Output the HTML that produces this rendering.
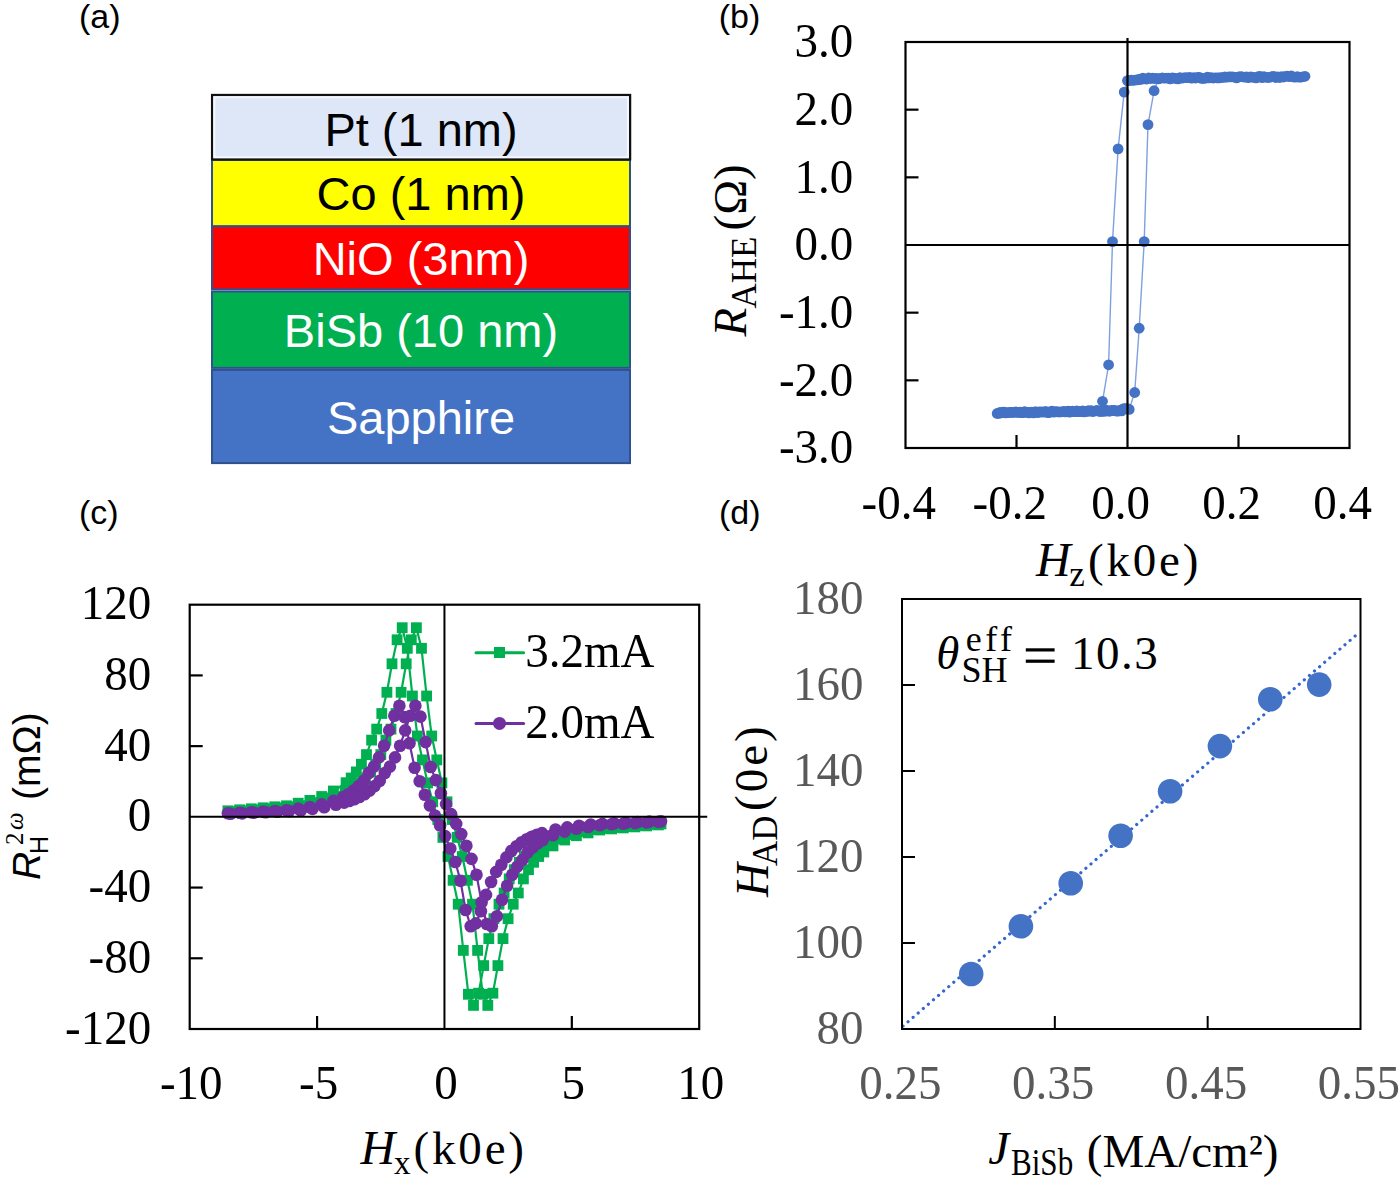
<!DOCTYPE html>
<html><head><meta charset="utf-8"><style>
html,body{margin:0;padding:0;background:#fff;overflow:hidden;}
svg{display:block;}
</style></head><body>
<svg width="1400" height="1178" viewBox="0 0 1400 1178">
<text transform="translate(79.00,27.80)" font-family="'Liberation Sans', sans-serif" font-size="34" fill="#000">(a)</text>
<rect x="212" y="160" width="418" height="66.35" fill="#FFFF00" stroke="#2F528F" stroke-width="2"/>
<rect x="212" y="226.35" width="418" height="63" fill="#FF0000" stroke="#2F528F" stroke-width="2"/>
<rect x="212" y="291.5" width="418" height="76.4" fill="#00B050" stroke="#2F528F" stroke-width="2"/>
<rect x="212" y="369.9" width="418" height="93.2" fill="#4472C4" stroke="#2F528F" stroke-width="2"/>
<rect x="212.1" y="95" width="418" height="64.4" fill="#DEE7F8" stroke="#111" stroke-width="2.3"/>
<rect x="214.3" y="97.2" width="413.6" height="60" fill="none" stroke="#F4F7FD" stroke-width="2"/>
<text transform="translate(421.00,145.60)" font-family="'Liberation Sans', sans-serif" font-size="47" text-anchor="middle" fill="#000">Pt (1 nm)</text>
<text transform="translate(421.00,210.40)" font-family="'Liberation Sans', sans-serif" font-size="47" text-anchor="middle" fill="#000">Co (1 nm)</text>
<text transform="translate(421.00,275.40)" font-family="'Liberation Sans', sans-serif" font-size="47" text-anchor="middle" fill="#fff">NiO (3nm)</text>
<text transform="translate(421.00,347.10)" font-family="'Liberation Sans', sans-serif" font-size="47" text-anchor="middle" fill="#fff">BiSb (10 nm)</text>
<text transform="translate(421.00,433.70)" font-family="'Liberation Sans', sans-serif" font-size="47" text-anchor="middle" fill="#fff">Sapphire</text>
<text transform="translate(718.80,28.00)" font-family="'Liberation Sans', sans-serif" font-size="34" fill="#000">(b)</text>
<path d="M1127.5,80.6 L1124.2,92.1 L1118.1,148.9 L1112.5,241.6 L1108.6,364.8 L1102.5,401.3 L1099.8,410.1" fill="none" stroke="#7FA0E0" stroke-width="1.4"/>
<path d="M1129.2,409.4 L1134.7,392.5 L1139.2,328.2 L1144.2,241.6 L1148.0,124.6 L1154.1,90.7 L1158.0,79.9" fill="none" stroke="#7FA0E0" stroke-width="1.4"/>
<circle cx="1129.2" cy="80.6" r="5.3" fill="#4472C4"/>
<circle cx="1131.1" cy="80.1" r="5.3" fill="#4472C4"/>
<circle cx="1133.1" cy="80.4" r="5.3" fill="#4472C4"/>
<circle cx="1135.0" cy="80.0" r="5.3" fill="#4472C4"/>
<circle cx="1137.0" cy="79.9" r="5.3" fill="#4472C4"/>
<circle cx="1138.9" cy="79.4" r="5.3" fill="#4472C4"/>
<circle cx="1140.9" cy="79.5" r="5.3" fill="#4472C4"/>
<circle cx="1142.8" cy="78.1" r="5.3" fill="#4472C4"/>
<circle cx="1144.8" cy="79.0" r="5.3" fill="#4472C4"/>
<circle cx="1146.8" cy="79.1" r="5.3" fill="#4472C4"/>
<circle cx="1148.7" cy="77.8" r="5.3" fill="#4472C4"/>
<circle cx="1150.7" cy="78.6" r="5.3" fill="#4472C4"/>
<circle cx="1152.6" cy="78.0" r="5.3" fill="#4472C4"/>
<circle cx="1154.6" cy="78.6" r="5.3" fill="#4472C4"/>
<circle cx="1156.5" cy="78.3" r="5.3" fill="#4472C4"/>
<circle cx="1158.5" cy="79.0" r="5.3" fill="#4472C4"/>
<circle cx="1160.4" cy="78.2" r="5.3" fill="#4472C4"/>
<circle cx="1162.4" cy="77.8" r="5.3" fill="#4472C4"/>
<circle cx="1164.4" cy="78.3" r="5.3" fill="#4472C4"/>
<circle cx="1166.3" cy="78.0" r="5.3" fill="#4472C4"/>
<circle cx="1168.3" cy="78.1" r="5.3" fill="#4472C4"/>
<circle cx="1170.2" cy="79.0" r="5.3" fill="#4472C4"/>
<circle cx="1172.2" cy="77.9" r="5.3" fill="#4472C4"/>
<circle cx="1174.1" cy="78.1" r="5.3" fill="#4472C4"/>
<circle cx="1176.1" cy="78.6" r="5.3" fill="#4472C4"/>
<circle cx="1178.0" cy="79.0" r="5.3" fill="#4472C4"/>
<circle cx="1180.0" cy="77.6" r="5.3" fill="#4472C4"/>
<circle cx="1181.9" cy="78.2" r="5.3" fill="#4472C4"/>
<circle cx="1183.9" cy="77.8" r="5.3" fill="#4472C4"/>
<circle cx="1185.9" cy="77.5" r="5.3" fill="#4472C4"/>
<circle cx="1187.8" cy="77.7" r="5.3" fill="#4472C4"/>
<circle cx="1189.8" cy="77.4" r="5.3" fill="#4472C4"/>
<circle cx="1191.7" cy="78.2" r="5.3" fill="#4472C4"/>
<circle cx="1193.7" cy="77.5" r="5.3" fill="#4472C4"/>
<circle cx="1195.6" cy="78.1" r="5.3" fill="#4472C4"/>
<circle cx="1197.6" cy="77.2" r="5.3" fill="#4472C4"/>
<circle cx="1199.5" cy="77.3" r="5.3" fill="#4472C4"/>
<circle cx="1201.5" cy="78.5" r="5.3" fill="#4472C4"/>
<circle cx="1203.4" cy="78.5" r="5.3" fill="#4472C4"/>
<circle cx="1205.4" cy="78.3" r="5.3" fill="#4472C4"/>
<circle cx="1207.4" cy="77.1" r="5.3" fill="#4472C4"/>
<circle cx="1209.3" cy="77.9" r="5.3" fill="#4472C4"/>
<circle cx="1211.3" cy="77.6" r="5.3" fill="#4472C4"/>
<circle cx="1213.2" cy="78.1" r="5.3" fill="#4472C4"/>
<circle cx="1215.2" cy="77.7" r="5.3" fill="#4472C4"/>
<circle cx="1217.1" cy="77.9" r="5.3" fill="#4472C4"/>
<circle cx="1219.1" cy="77.9" r="5.3" fill="#4472C4"/>
<circle cx="1221.0" cy="77.5" r="5.3" fill="#4472C4"/>
<circle cx="1223.0" cy="77.5" r="5.3" fill="#4472C4"/>
<circle cx="1225.0" cy="76.9" r="5.3" fill="#4472C4"/>
<circle cx="1226.9" cy="77.3" r="5.3" fill="#4472C4"/>
<circle cx="1228.9" cy="76.8" r="5.3" fill="#4472C4"/>
<circle cx="1230.8" cy="76.9" r="5.3" fill="#4472C4"/>
<circle cx="1232.8" cy="76.7" r="5.3" fill="#4472C4"/>
<circle cx="1234.7" cy="77.2" r="5.3" fill="#4472C4"/>
<circle cx="1236.7" cy="78.0" r="5.3" fill="#4472C4"/>
<circle cx="1238.6" cy="76.8" r="5.3" fill="#4472C4"/>
<circle cx="1240.6" cy="76.6" r="5.3" fill="#4472C4"/>
<circle cx="1242.5" cy="76.7" r="5.3" fill="#4472C4"/>
<circle cx="1244.5" cy="77.2" r="5.3" fill="#4472C4"/>
<circle cx="1246.5" cy="76.9" r="5.3" fill="#4472C4"/>
<circle cx="1248.4" cy="77.7" r="5.3" fill="#4472C4"/>
<circle cx="1250.4" cy="76.7" r="5.3" fill="#4472C4"/>
<circle cx="1252.3" cy="77.1" r="5.3" fill="#4472C4"/>
<circle cx="1254.3" cy="77.5" r="5.3" fill="#4472C4"/>
<circle cx="1256.2" cy="77.9" r="5.3" fill="#4472C4"/>
<circle cx="1258.2" cy="76.6" r="5.3" fill="#4472C4"/>
<circle cx="1260.1" cy="76.3" r="5.3" fill="#4472C4"/>
<circle cx="1262.1" cy="77.8" r="5.3" fill="#4472C4"/>
<circle cx="1264.0" cy="76.6" r="5.3" fill="#4472C4"/>
<circle cx="1266.0" cy="77.2" r="5.3" fill="#4472C4"/>
<circle cx="1268.0" cy="77.6" r="5.3" fill="#4472C4"/>
<circle cx="1269.9" cy="77.3" r="5.3" fill="#4472C4"/>
<circle cx="1271.9" cy="76.5" r="5.3" fill="#4472C4"/>
<circle cx="1273.8" cy="76.3" r="5.3" fill="#4472C4"/>
<circle cx="1275.8" cy="77.6" r="5.3" fill="#4472C4"/>
<circle cx="1277.7" cy="76.7" r="5.3" fill="#4472C4"/>
<circle cx="1279.7" cy="77.6" r="5.3" fill="#4472C4"/>
<circle cx="1281.6" cy="76.5" r="5.3" fill="#4472C4"/>
<circle cx="1283.6" cy="77.1" r="5.3" fill="#4472C4"/>
<circle cx="1285.6" cy="76.2" r="5.3" fill="#4472C4"/>
<circle cx="1287.5" cy="76.0" r="5.3" fill="#4472C4"/>
<circle cx="1289.5" cy="76.7" r="5.3" fill="#4472C4"/>
<circle cx="1291.4" cy="75.9" r="5.3" fill="#4472C4"/>
<circle cx="1293.4" cy="77.0" r="5.3" fill="#4472C4"/>
<circle cx="1295.3" cy="77.3" r="5.3" fill="#4472C4"/>
<circle cx="1297.3" cy="76.5" r="5.3" fill="#4472C4"/>
<circle cx="1299.2" cy="77.3" r="5.3" fill="#4472C4"/>
<circle cx="1301.2" cy="77.1" r="5.3" fill="#4472C4"/>
<circle cx="1303.1" cy="76.7" r="5.3" fill="#4472C4"/>
<circle cx="1305.1" cy="76.3" r="5.3" fill="#4472C4"/>
<circle cx="997.1" cy="413.4" r="5.3" fill="#4472C4"/>
<circle cx="998.5" cy="413.5" r="5.3" fill="#4472C4"/>
<circle cx="1000.0" cy="412.2" r="5.3" fill="#4472C4"/>
<circle cx="1001.4" cy="413.0" r="5.3" fill="#4472C4"/>
<circle cx="1002.9" cy="412.0" r="5.3" fill="#4472C4"/>
<circle cx="1004.3" cy="412.0" r="5.3" fill="#4472C4"/>
<circle cx="1005.8" cy="412.9" r="5.3" fill="#4472C4"/>
<circle cx="1007.2" cy="412.7" r="5.3" fill="#4472C4"/>
<circle cx="1008.7" cy="412.6" r="5.3" fill="#4472C4"/>
<circle cx="1010.1" cy="412.3" r="5.3" fill="#4472C4"/>
<circle cx="1011.6" cy="412.4" r="5.3" fill="#4472C4"/>
<circle cx="1013.0" cy="412.4" r="5.3" fill="#4472C4"/>
<circle cx="1014.5" cy="412.3" r="5.3" fill="#4472C4"/>
<circle cx="1015.9" cy="411.8" r="5.3" fill="#4472C4"/>
<circle cx="1017.4" cy="412.4" r="5.3" fill="#4472C4"/>
<circle cx="1018.8" cy="412.5" r="5.3" fill="#4472C4"/>
<circle cx="1020.3" cy="412.0" r="5.3" fill="#4472C4"/>
<circle cx="1021.7" cy="412.8" r="5.3" fill="#4472C4"/>
<circle cx="1023.2" cy="412.7" r="5.3" fill="#4472C4"/>
<circle cx="1024.6" cy="411.5" r="5.3" fill="#4472C4"/>
<circle cx="1026.1" cy="412.3" r="5.3" fill="#4472C4"/>
<circle cx="1027.5" cy="412.2" r="5.3" fill="#4472C4"/>
<circle cx="1029.0" cy="413.0" r="5.3" fill="#4472C4"/>
<circle cx="1030.4" cy="412.3" r="5.3" fill="#4472C4"/>
<circle cx="1031.9" cy="412.1" r="5.3" fill="#4472C4"/>
<circle cx="1033.3" cy="412.9" r="5.3" fill="#4472C4"/>
<circle cx="1034.8" cy="411.9" r="5.3" fill="#4472C4"/>
<circle cx="1036.2" cy="411.9" r="5.3" fill="#4472C4"/>
<circle cx="1037.7" cy="412.8" r="5.3" fill="#4472C4"/>
<circle cx="1039.1" cy="411.8" r="5.3" fill="#4472C4"/>
<circle cx="1040.5" cy="412.1" r="5.3" fill="#4472C4"/>
<circle cx="1042.0" cy="411.7" r="5.3" fill="#4472C4"/>
<circle cx="1043.4" cy="412.2" r="5.3" fill="#4472C4"/>
<circle cx="1044.9" cy="411.6" r="5.3" fill="#4472C4"/>
<circle cx="1046.3" cy="411.5" r="5.3" fill="#4472C4"/>
<circle cx="1047.8" cy="412.7" r="5.3" fill="#4472C4"/>
<circle cx="1049.2" cy="412.6" r="5.3" fill="#4472C4"/>
<circle cx="1050.7" cy="411.6" r="5.3" fill="#4472C4"/>
<circle cx="1052.1" cy="411.1" r="5.3" fill="#4472C4"/>
<circle cx="1053.6" cy="412.2" r="5.3" fill="#4472C4"/>
<circle cx="1055.0" cy="411.8" r="5.3" fill="#4472C4"/>
<circle cx="1056.5" cy="411.6" r="5.3" fill="#4472C4"/>
<circle cx="1057.9" cy="412.0" r="5.3" fill="#4472C4"/>
<circle cx="1059.4" cy="411.9" r="5.3" fill="#4472C4"/>
<circle cx="1060.8" cy="412.0" r="5.3" fill="#4472C4"/>
<circle cx="1062.3" cy="411.8" r="5.3" fill="#4472C4"/>
<circle cx="1063.7" cy="411.4" r="5.3" fill="#4472C4"/>
<circle cx="1065.2" cy="411.9" r="5.3" fill="#4472C4"/>
<circle cx="1066.6" cy="411.7" r="5.3" fill="#4472C4"/>
<circle cx="1068.1" cy="411.1" r="5.3" fill="#4472C4"/>
<circle cx="1069.5" cy="412.3" r="5.3" fill="#4472C4"/>
<circle cx="1071.0" cy="411.4" r="5.3" fill="#4472C4"/>
<circle cx="1072.4" cy="411.1" r="5.3" fill="#4472C4"/>
<circle cx="1073.9" cy="411.7" r="5.3" fill="#4472C4"/>
<circle cx="1075.3" cy="411.8" r="5.3" fill="#4472C4"/>
<circle cx="1076.8" cy="410.9" r="5.3" fill="#4472C4"/>
<circle cx="1078.2" cy="411.8" r="5.3" fill="#4472C4"/>
<circle cx="1079.7" cy="411.8" r="5.3" fill="#4472C4"/>
<circle cx="1081.1" cy="411.4" r="5.3" fill="#4472C4"/>
<circle cx="1082.6" cy="410.9" r="5.3" fill="#4472C4"/>
<circle cx="1084.0" cy="411.9" r="5.3" fill="#4472C4"/>
<circle cx="1085.5" cy="411.5" r="5.3" fill="#4472C4"/>
<circle cx="1086.9" cy="411.5" r="5.3" fill="#4472C4"/>
<circle cx="1088.4" cy="410.6" r="5.3" fill="#4472C4"/>
<circle cx="1089.8" cy="411.2" r="5.3" fill="#4472C4"/>
<circle cx="1091.3" cy="410.5" r="5.3" fill="#4472C4"/>
<circle cx="1092.7" cy="411.6" r="5.3" fill="#4472C4"/>
<circle cx="1094.2" cy="411.3" r="5.3" fill="#4472C4"/>
<circle cx="1095.6" cy="410.8" r="5.3" fill="#4472C4"/>
<circle cx="1097.1" cy="410.4" r="5.3" fill="#4472C4"/>
<circle cx="1098.5" cy="411.1" r="5.3" fill="#4472C4"/>
<circle cx="1100.0" cy="411.4" r="5.3" fill="#4472C4"/>
<circle cx="1101.4" cy="411.5" r="5.3" fill="#4472C4"/>
<circle cx="1102.9" cy="410.8" r="5.3" fill="#4472C4"/>
<circle cx="1104.3" cy="411.4" r="5.3" fill="#4472C4"/>
<circle cx="1105.8" cy="410.3" r="5.3" fill="#4472C4"/>
<circle cx="1107.2" cy="410.3" r="5.3" fill="#4472C4"/>
<circle cx="1108.7" cy="411.3" r="5.3" fill="#4472C4"/>
<circle cx="1110.1" cy="411.1" r="5.3" fill="#4472C4"/>
<circle cx="1111.6" cy="410.2" r="5.3" fill="#4472C4"/>
<circle cx="1113.0" cy="410.5" r="5.3" fill="#4472C4"/>
<circle cx="1114.5" cy="410.2" r="5.3" fill="#4472C4"/>
<circle cx="1115.9" cy="410.9" r="5.3" fill="#4472C4"/>
<circle cx="1117.4" cy="411.2" r="5.3" fill="#4472C4"/>
<circle cx="1118.8" cy="410.9" r="5.3" fill="#4472C4"/>
<circle cx="1120.3" cy="410.1" r="5.3" fill="#4472C4"/>
<circle cx="1121.7" cy="410.9" r="5.3" fill="#4472C4"/>
<circle cx="1123.2" cy="408.7" r="5.3" fill="#4472C4"/>
<circle cx="1124.6" cy="408.6" r="5.3" fill="#4472C4"/>
<circle cx="1126.1" cy="408.6" r="5.3" fill="#4472C4"/>
<circle cx="1127.5" cy="408.6" r="5.3" fill="#4472C4"/>
<circle cx="1127.5" cy="80.6" r="5.4" fill="#4472C4"/>
<circle cx="1124.2" cy="92.1" r="5.4" fill="#4472C4"/>
<circle cx="1118.1" cy="148.9" r="5.4" fill="#4472C4"/>
<circle cx="1112.5" cy="241.6" r="5.4" fill="#4472C4"/>
<circle cx="1108.6" cy="364.8" r="5.4" fill="#4472C4"/>
<circle cx="1102.5" cy="401.3" r="5.4" fill="#4472C4"/>
<circle cx="1129.2" cy="409.4" r="5.4" fill="#4472C4"/>
<circle cx="1134.7" cy="392.5" r="5.4" fill="#4472C4"/>
<circle cx="1139.2" cy="328.2" r="5.4" fill="#4472C4"/>
<circle cx="1144.2" cy="241.6" r="5.4" fill="#4472C4"/>
<circle cx="1148.0" cy="124.6" r="5.4" fill="#4472C4"/>
<circle cx="1154.1" cy="90.7" r="5.4" fill="#4472C4"/>
<rect x="905.5" y="42" width="444.0" height="406" fill="none" stroke="#000" stroke-width="2.2"/>
<line x1="905.5" y1="245.0" x2="1349.5" y2="245.0" stroke="#000" stroke-width="2.2"/>
<line x1="1127.5" y1="38" x2="1127.5" y2="448" stroke="#000" stroke-width="2.2"/>
<line x1="905.5" y1="109.66666666666663" x2="918.5" y2="109.66666666666663" stroke="#000" stroke-width="2.2"/>
<line x1="905.5" y1="177.33333333333337" x2="918.5" y2="177.33333333333337" stroke="#000" stroke-width="2.2"/>
<line x1="905.5" y1="312.6666666666667" x2="918.5" y2="312.6666666666667" stroke="#000" stroke-width="2.2"/>
<line x1="905.5" y1="380.33333333333337" x2="918.5" y2="380.33333333333337" stroke="#000" stroke-width="2.2"/>
<line x1="1016.5" y1="448" x2="1016.5" y2="435" stroke="#000" stroke-width="2.2"/>
<line x1="1238.5" y1="448" x2="1238.5" y2="435" stroke="#000" stroke-width="2.2"/>
<text transform="translate(853.30,57.20) scale(1.0,1.045)" font-family="'Liberation Serif', serif" font-size="47" text-anchor="end" fill="#000">3.0</text>
<text transform="translate(853.30,124.87) scale(1.0,1.045)" font-family="'Liberation Serif', serif" font-size="47" text-anchor="end" fill="#000">2.0</text>
<text transform="translate(853.30,192.53) scale(1.0,1.045)" font-family="'Liberation Serif', serif" font-size="47" text-anchor="end" fill="#000">1.0</text>
<text transform="translate(853.30,260.20) scale(1.0,1.045)" font-family="'Liberation Serif', serif" font-size="47" text-anchor="end" fill="#000">0.0</text>
<text transform="translate(853.30,327.87) scale(1.0,1.045)" font-family="'Liberation Serif', serif" font-size="47" text-anchor="end" fill="#000">-1.0</text>
<text transform="translate(853.30,395.53) scale(1.0,1.045)" font-family="'Liberation Serif', serif" font-size="47" text-anchor="end" fill="#000">-2.0</text>
<text transform="translate(853.30,463.20) scale(1.0,1.045)" font-family="'Liberation Serif', serif" font-size="47" text-anchor="end" fill="#000">-3.0</text>
<text transform="translate(898.70,518.80) scale(1.0,1.045)" font-family="'Liberation Serif', serif" font-size="47" text-anchor="middle" fill="#000">-0.4</text>
<text transform="translate(1009.70,518.80) scale(1.0,1.045)" font-family="'Liberation Serif', serif" font-size="47" text-anchor="middle" fill="#000">-0.2</text>
<text transform="translate(1120.70,518.80) scale(1.0,1.045)" font-family="'Liberation Serif', serif" font-size="47" text-anchor="middle" fill="#000">0.0</text>
<text transform="translate(1231.70,518.80) scale(1.0,1.045)" font-family="'Liberation Serif', serif" font-size="47" text-anchor="middle" fill="#000">0.2</text>
<text transform="translate(1342.70,518.80) scale(1.0,1.045)" font-family="'Liberation Serif', serif" font-size="47" text-anchor="middle" fill="#000">0.4</text>
<text transform="translate(1036.00,575.70)" font-family="'Liberation Serif', serif" font-size="48" fill="#000" font-style="italic">H</text>
<text transform="translate(1069.30,585.70)" font-family="'Liberation Serif', serif" font-size="35" fill="#000">z</text>
<text transform="translate(1088.00,575.70)" font-family="'Liberation Serif', serif" font-size="47" fill="#000" letter-spacing="2.8">(k0e)</text>
<text transform="translate(746.10,336.50) rotate(-90)" font-family="'Liberation Serif', serif" font-size="47" fill="#000" font-style="italic">R</text>
<text transform="translate(756.30,308.50) rotate(-90)" font-family="'Liberation Serif', serif" font-size="35" fill="#000">AHE</text>
<text transform="translate(746.00,230.50) rotate(-90)" font-family="'Liberation Serif', serif" font-size="47" fill="#000">(Ω)</text>
<text transform="translate(79.00,523.50)" font-family="'Liberation Sans', sans-serif" font-size="34" fill="#000">(c)</text>
<path d="M227.9,810.8 L239.6,809.8 L251.3,808.8 L263.1,807.8 L274.8,806.8 L286.5,805.8 L298.2,803.2 L309.9,800.4 L321.7,796.5 L333.4,791.0 L346.1,782.7 L351.2,778.0 L356.3,771.9 L361.4,764.2 L366.5,754.6 L371.6,740.1 L376.7,729.1 L381.8,713.5 L386.9,692.3 L392.0,663.8 L397.1,639.8 L402.2,627.7 L407.3,648.3 L412.4,696.0 L417.4,736.0 L422.5,759.9 L427.6,782.9 L432.7,801.8 L437.8,819.5 L442.9,837.4 L448.0,856.5 L453.1,880.3 L458.2,904.2 L463.3,950.4 L468.4,994.3 L473.5,1005.4 L478.6,993.2 L483.7,965.6 L488.8,938.6 L493.9,918.7 L499.0,904.2 L504.1,893.0 L509.2,878.9 L514.3,869.7 L519.3,862.3 L524.4,856.5 L529.5,852.0 L534.6,848.3 L539.7,845.3 L544.8,842.6 L555.5,837.9 L567.2,834.5 L579.0,831.6 L590.7,829.5 L602.4,828.5 L614.1,827.5 L625.8,826.5 L637.6,825.5 L649.3,824.5 L661.0,823.9" fill="none" stroke="#00B050" stroke-width="2.2"/>
<path d="M230.5,811.5 L242.2,810.8 L253.9,809.8 L265.6,808.8 L277.3,807.8 L289.1,806.8 L300.8,805.8 L312.5,803.2 L324.2,800.4 L335.9,796.5 L345.1,792.3 L350.2,789.6 L355.3,786.4 L360.4,782.7 L365.5,778.0 L370.6,771.9 L375.7,764.2 L380.8,754.6 L385.9,740.1 L391.0,729.1 L396.0,713.5 L401.1,692.3 L406.2,663.8 L411.3,639.8 L416.4,627.7 L421.5,648.3 L426.6,696.0 L431.7,736.0 L436.8,759.9 L441.9,782.9 L447.0,801.8 L452.1,819.5 L457.2,837.4 L462.3,856.5 L467.4,880.3 L472.5,904.2 L477.6,950.4 L482.7,994.3 L487.8,1005.4 L492.9,993.2 L497.9,965.6 L503.0,938.6 L508.1,918.7 L513.2,904.2 L518.3,893.0 L523.4,878.9 L528.5,869.7 L533.6,862.3 L538.7,856.5 L543.8,852.0 L553.0,845.9 L564.7,840.0 L576.4,835.7 L588.1,832.9 L599.8,830.0 L611.6,828.9 L623.3,827.9 L635.0,826.9 L646.7,825.9 L658.4,824.9" fill="none" stroke="#00B050" stroke-width="2.2"/>
<rect x="222.5" y="805.4" width="10.8" height="10.8" fill="#00B050"/>
<rect x="234.2" y="804.4" width="10.8" height="10.8" fill="#00B050"/>
<rect x="245.9" y="803.4" width="10.8" height="10.8" fill="#00B050"/>
<rect x="257.7" y="802.4" width="10.8" height="10.8" fill="#00B050"/>
<rect x="269.4" y="801.4" width="10.8" height="10.8" fill="#00B050"/>
<rect x="281.1" y="800.4" width="10.8" height="10.8" fill="#00B050"/>
<rect x="292.8" y="797.8" width="10.8" height="10.8" fill="#00B050"/>
<rect x="304.5" y="795.0" width="10.8" height="10.8" fill="#00B050"/>
<rect x="316.3" y="791.1" width="10.8" height="10.8" fill="#00B050"/>
<rect x="328.0" y="785.6" width="10.8" height="10.8" fill="#00B050"/>
<rect x="340.7" y="777.3" width="10.8" height="10.8" fill="#00B050"/>
<rect x="345.8" y="772.6" width="10.8" height="10.8" fill="#00B050"/>
<rect x="350.9" y="766.5" width="10.8" height="10.8" fill="#00B050"/>
<rect x="356.0" y="758.8" width="10.8" height="10.8" fill="#00B050"/>
<rect x="361.1" y="749.2" width="10.8" height="10.8" fill="#00B050"/>
<rect x="366.2" y="734.7" width="10.8" height="10.8" fill="#00B050"/>
<rect x="371.3" y="723.7" width="10.8" height="10.8" fill="#00B050"/>
<rect x="376.4" y="708.1" width="10.8" height="10.8" fill="#00B050"/>
<rect x="381.5" y="686.9" width="10.8" height="10.8" fill="#00B050"/>
<rect x="386.6" y="658.4" width="10.8" height="10.8" fill="#00B050"/>
<rect x="391.7" y="634.4" width="10.8" height="10.8" fill="#00B050"/>
<rect x="396.8" y="622.3" width="10.8" height="10.8" fill="#00B050"/>
<rect x="401.9" y="642.9" width="10.8" height="10.8" fill="#00B050"/>
<rect x="407.0" y="690.6" width="10.8" height="10.8" fill="#00B050"/>
<rect x="412.0" y="730.6" width="10.8" height="10.8" fill="#00B050"/>
<rect x="417.1" y="754.5" width="10.8" height="10.8" fill="#00B050"/>
<rect x="422.2" y="777.5" width="10.8" height="10.8" fill="#00B050"/>
<rect x="427.3" y="796.4" width="10.8" height="10.8" fill="#00B050"/>
<rect x="432.4" y="814.1" width="10.8" height="10.8" fill="#00B050"/>
<rect x="437.5" y="832.0" width="10.8" height="10.8" fill="#00B050"/>
<rect x="442.6" y="851.1" width="10.8" height="10.8" fill="#00B050"/>
<rect x="447.7" y="874.9" width="10.8" height="10.8" fill="#00B050"/>
<rect x="452.8" y="898.8" width="10.8" height="10.8" fill="#00B050"/>
<rect x="457.9" y="945.0" width="10.8" height="10.8" fill="#00B050"/>
<rect x="463.0" y="988.9" width="10.8" height="10.8" fill="#00B050"/>
<rect x="468.1" y="1000.0" width="10.8" height="10.8" fill="#00B050"/>
<rect x="473.2" y="987.8" width="10.8" height="10.8" fill="#00B050"/>
<rect x="478.3" y="960.2" width="10.8" height="10.8" fill="#00B050"/>
<rect x="483.4" y="933.2" width="10.8" height="10.8" fill="#00B050"/>
<rect x="488.5" y="913.3" width="10.8" height="10.8" fill="#00B050"/>
<rect x="493.6" y="898.8" width="10.8" height="10.8" fill="#00B050"/>
<rect x="498.7" y="887.6" width="10.8" height="10.8" fill="#00B050"/>
<rect x="503.8" y="873.5" width="10.8" height="10.8" fill="#00B050"/>
<rect x="508.9" y="864.3" width="10.8" height="10.8" fill="#00B050"/>
<rect x="513.9" y="856.9" width="10.8" height="10.8" fill="#00B050"/>
<rect x="519.0" y="851.1" width="10.8" height="10.8" fill="#00B050"/>
<rect x="524.1" y="846.6" width="10.8" height="10.8" fill="#00B050"/>
<rect x="529.2" y="842.9" width="10.8" height="10.8" fill="#00B050"/>
<rect x="534.3" y="839.9" width="10.8" height="10.8" fill="#00B050"/>
<rect x="539.4" y="837.2" width="10.8" height="10.8" fill="#00B050"/>
<rect x="550.1" y="832.5" width="10.8" height="10.8" fill="#00B050"/>
<rect x="561.8" y="829.1" width="10.8" height="10.8" fill="#00B050"/>
<rect x="573.6" y="826.2" width="10.8" height="10.8" fill="#00B050"/>
<rect x="585.3" y="824.1" width="10.8" height="10.8" fill="#00B050"/>
<rect x="597.0" y="823.1" width="10.8" height="10.8" fill="#00B050"/>
<rect x="608.7" y="822.1" width="10.8" height="10.8" fill="#00B050"/>
<rect x="620.4" y="821.1" width="10.8" height="10.8" fill="#00B050"/>
<rect x="632.2" y="820.1" width="10.8" height="10.8" fill="#00B050"/>
<rect x="643.9" y="819.1" width="10.8" height="10.8" fill="#00B050"/>
<rect x="655.6" y="818.5" width="10.8" height="10.8" fill="#00B050"/>
<rect x="225.1" y="806.1" width="10.8" height="10.8" fill="#00B050"/>
<rect x="236.8" y="805.4" width="10.8" height="10.8" fill="#00B050"/>
<rect x="248.5" y="804.4" width="10.8" height="10.8" fill="#00B050"/>
<rect x="260.2" y="803.4" width="10.8" height="10.8" fill="#00B050"/>
<rect x="271.9" y="802.4" width="10.8" height="10.8" fill="#00B050"/>
<rect x="283.7" y="801.4" width="10.8" height="10.8" fill="#00B050"/>
<rect x="295.4" y="800.4" width="10.8" height="10.8" fill="#00B050"/>
<rect x="307.1" y="797.8" width="10.8" height="10.8" fill="#00B050"/>
<rect x="318.8" y="795.0" width="10.8" height="10.8" fill="#00B050"/>
<rect x="330.5" y="791.1" width="10.8" height="10.8" fill="#00B050"/>
<rect x="339.7" y="786.9" width="10.8" height="10.8" fill="#00B050"/>
<rect x="344.8" y="784.2" width="10.8" height="10.8" fill="#00B050"/>
<rect x="349.9" y="781.0" width="10.8" height="10.8" fill="#00B050"/>
<rect x="355.0" y="777.3" width="10.8" height="10.8" fill="#00B050"/>
<rect x="360.1" y="772.6" width="10.8" height="10.8" fill="#00B050"/>
<rect x="365.2" y="766.5" width="10.8" height="10.8" fill="#00B050"/>
<rect x="370.3" y="758.8" width="10.8" height="10.8" fill="#00B050"/>
<rect x="375.4" y="749.2" width="10.8" height="10.8" fill="#00B050"/>
<rect x="380.5" y="734.7" width="10.8" height="10.8" fill="#00B050"/>
<rect x="385.6" y="723.7" width="10.8" height="10.8" fill="#00B050"/>
<rect x="390.6" y="708.1" width="10.8" height="10.8" fill="#00B050"/>
<rect x="395.7" y="686.9" width="10.8" height="10.8" fill="#00B050"/>
<rect x="400.8" y="658.4" width="10.8" height="10.8" fill="#00B050"/>
<rect x="405.9" y="634.4" width="10.8" height="10.8" fill="#00B050"/>
<rect x="411.0" y="622.3" width="10.8" height="10.8" fill="#00B050"/>
<rect x="416.1" y="642.9" width="10.8" height="10.8" fill="#00B050"/>
<rect x="421.2" y="690.6" width="10.8" height="10.8" fill="#00B050"/>
<rect x="426.3" y="730.6" width="10.8" height="10.8" fill="#00B050"/>
<rect x="431.4" y="754.5" width="10.8" height="10.8" fill="#00B050"/>
<rect x="436.5" y="777.5" width="10.8" height="10.8" fill="#00B050"/>
<rect x="441.6" y="796.4" width="10.8" height="10.8" fill="#00B050"/>
<rect x="446.7" y="814.1" width="10.8" height="10.8" fill="#00B050"/>
<rect x="451.8" y="832.0" width="10.8" height="10.8" fill="#00B050"/>
<rect x="456.9" y="851.1" width="10.8" height="10.8" fill="#00B050"/>
<rect x="462.0" y="874.9" width="10.8" height="10.8" fill="#00B050"/>
<rect x="467.1" y="898.8" width="10.8" height="10.8" fill="#00B050"/>
<rect x="472.2" y="945.0" width="10.8" height="10.8" fill="#00B050"/>
<rect x="477.3" y="988.9" width="10.8" height="10.8" fill="#00B050"/>
<rect x="482.4" y="1000.0" width="10.8" height="10.8" fill="#00B050"/>
<rect x="487.5" y="987.8" width="10.8" height="10.8" fill="#00B050"/>
<rect x="492.5" y="960.2" width="10.8" height="10.8" fill="#00B050"/>
<rect x="497.6" y="933.2" width="10.8" height="10.8" fill="#00B050"/>
<rect x="502.7" y="913.3" width="10.8" height="10.8" fill="#00B050"/>
<rect x="507.8" y="898.8" width="10.8" height="10.8" fill="#00B050"/>
<rect x="512.9" y="887.6" width="10.8" height="10.8" fill="#00B050"/>
<rect x="518.0" y="873.5" width="10.8" height="10.8" fill="#00B050"/>
<rect x="523.1" y="864.3" width="10.8" height="10.8" fill="#00B050"/>
<rect x="528.2" y="856.9" width="10.8" height="10.8" fill="#00B050"/>
<rect x="533.3" y="851.1" width="10.8" height="10.8" fill="#00B050"/>
<rect x="538.4" y="846.6" width="10.8" height="10.8" fill="#00B050"/>
<rect x="547.6" y="840.5" width="10.8" height="10.8" fill="#00B050"/>
<rect x="559.3" y="834.6" width="10.8" height="10.8" fill="#00B050"/>
<rect x="571.0" y="830.3" width="10.8" height="10.8" fill="#00B050"/>
<rect x="582.7" y="827.5" width="10.8" height="10.8" fill="#00B050"/>
<rect x="594.4" y="824.6" width="10.8" height="10.8" fill="#00B050"/>
<rect x="606.2" y="823.5" width="10.8" height="10.8" fill="#00B050"/>
<rect x="617.9" y="822.5" width="10.8" height="10.8" fill="#00B050"/>
<rect x="629.6" y="821.5" width="10.8" height="10.8" fill="#00B050"/>
<rect x="641.3" y="820.5" width="10.8" height="10.8" fill="#00B050"/>
<rect x="653.0" y="819.5" width="10.8" height="10.8" fill="#00B050"/>
<path d="M227.9,813.3 L239.6,812.7 L251.3,812.2 L263.1,811.6 L274.8,811.0 L286.5,810.3 L298.2,808.6 L309.9,807.0 L321.7,804.4 L333.4,800.9 L343.3,797.0 L348.4,794.2 L353.5,790.6 L358.6,786.1 L363.7,780.9 L368.8,773.0 L373.9,766.6 L379.0,757.4 L384.1,745.8 L389.2,730.4 L394.3,715.7 L399.4,705.8 L404.5,717.1 L409.5,743.3 L414.6,767.8 L419.7,781.2 L424.8,794.7 L429.9,805.5 L435.0,815.6 L440.1,825.5 L445.2,836.1 L450.3,848.5 L455.4,862.0 L460.5,880.9 L465.6,910.0 L470.7,926.2 L475.8,923.4 L480.9,911.3 L486.0,894.9 L491.1,882.0 L496.2,871.9 L501.3,864.7 L506.4,857.4 L511.4,851.0 L516.5,846.2 L521.6,842.2 L526.7,839.2 L531.8,836.8 L536.9,834.7 L542.0,833.1 L555.5,829.5 L567.2,827.4 L579.0,825.8 L590.7,824.5 L602.4,823.9 L614.1,823.3 L625.8,822.7 L637.6,822.1 L649.3,821.6 L661.0,821.2" fill="none" stroke="#7030A0" stroke-width="2.2"/>
<path d="M230.5,813.8 L242.2,813.4 L253.9,812.8 L265.6,812.2 L277.3,811.7 L289.1,811.1 L300.8,810.5 L312.5,808.9 L324.2,807.2 L335.9,804.8 L344.1,802.6 L349.2,801.0 L354.3,799.2 L359.4,797.0 L364.5,794.2 L369.6,790.6 L374.6,786.1 L379.7,780.9 L384.8,773.0 L389.9,766.6 L395.0,757.4 L400.1,745.8 L405.2,730.4 L410.3,715.7 L415.4,705.8 L420.5,716.6 L425.6,742.1 L430.7,767.0 L435.8,780.1 L440.9,793.3 L446.0,804.1 L451.1,814.1 L456.2,823.9 L461.3,834.1 L466.4,845.8 L471.5,858.9 L476.5,874.8 L481.6,902.2 L486.7,924.0 L491.8,926.3 L496.9,916.2 L502.0,899.8 L507.1,885.7 L512.2,874.8 L517.3,866.6 L522.4,859.9 L527.5,852.6 L532.6,847.6 L537.7,843.4 L542.8,840.0 L553.0,835.3 L564.7,831.6 L576.4,828.7 L588.1,827.0 L599.8,825.3 L611.6,824.3 L623.3,823.7 L635.0,823.1 L646.7,822.5 L658.4,821.9" fill="none" stroke="#7030A0" stroke-width="2.2"/>
<circle cx="227.9" cy="813.3" r="6.3" fill="#7030A0"/>
<circle cx="239.6" cy="812.7" r="6.3" fill="#7030A0"/>
<circle cx="251.3" cy="812.2" r="6.3" fill="#7030A0"/>
<circle cx="263.1" cy="811.6" r="6.3" fill="#7030A0"/>
<circle cx="274.8" cy="811.0" r="6.3" fill="#7030A0"/>
<circle cx="286.5" cy="810.3" r="6.3" fill="#7030A0"/>
<circle cx="298.2" cy="808.6" r="6.3" fill="#7030A0"/>
<circle cx="309.9" cy="807.0" r="6.3" fill="#7030A0"/>
<circle cx="321.7" cy="804.4" r="6.3" fill="#7030A0"/>
<circle cx="333.4" cy="800.9" r="6.3" fill="#7030A0"/>
<circle cx="343.3" cy="797.0" r="6.3" fill="#7030A0"/>
<circle cx="348.4" cy="794.2" r="6.3" fill="#7030A0"/>
<circle cx="353.5" cy="790.6" r="6.3" fill="#7030A0"/>
<circle cx="358.6" cy="786.1" r="6.3" fill="#7030A0"/>
<circle cx="363.7" cy="780.9" r="6.3" fill="#7030A0"/>
<circle cx="368.8" cy="773.0" r="6.3" fill="#7030A0"/>
<circle cx="373.9" cy="766.6" r="6.3" fill="#7030A0"/>
<circle cx="379.0" cy="757.4" r="6.3" fill="#7030A0"/>
<circle cx="384.1" cy="745.8" r="6.3" fill="#7030A0"/>
<circle cx="389.2" cy="730.4" r="6.3" fill="#7030A0"/>
<circle cx="394.3" cy="715.7" r="6.3" fill="#7030A0"/>
<circle cx="399.4" cy="705.8" r="6.3" fill="#7030A0"/>
<circle cx="404.5" cy="717.1" r="6.3" fill="#7030A0"/>
<circle cx="409.5" cy="743.3" r="6.3" fill="#7030A0"/>
<circle cx="414.6" cy="767.8" r="6.3" fill="#7030A0"/>
<circle cx="419.7" cy="781.2" r="6.3" fill="#7030A0"/>
<circle cx="424.8" cy="794.7" r="6.3" fill="#7030A0"/>
<circle cx="429.9" cy="805.5" r="6.3" fill="#7030A0"/>
<circle cx="435.0" cy="815.6" r="6.3" fill="#7030A0"/>
<circle cx="440.1" cy="825.5" r="6.3" fill="#7030A0"/>
<circle cx="445.2" cy="836.1" r="6.3" fill="#7030A0"/>
<circle cx="450.3" cy="848.5" r="6.3" fill="#7030A0"/>
<circle cx="455.4" cy="862.0" r="6.3" fill="#7030A0"/>
<circle cx="460.5" cy="880.9" r="6.3" fill="#7030A0"/>
<circle cx="465.6" cy="910.0" r="6.3" fill="#7030A0"/>
<circle cx="470.7" cy="926.2" r="6.3" fill="#7030A0"/>
<circle cx="475.8" cy="923.4" r="6.3" fill="#7030A0"/>
<circle cx="480.9" cy="911.3" r="6.3" fill="#7030A0"/>
<circle cx="486.0" cy="894.9" r="6.3" fill="#7030A0"/>
<circle cx="491.1" cy="882.0" r="6.3" fill="#7030A0"/>
<circle cx="496.2" cy="871.9" r="6.3" fill="#7030A0"/>
<circle cx="501.3" cy="864.7" r="6.3" fill="#7030A0"/>
<circle cx="506.4" cy="857.4" r="6.3" fill="#7030A0"/>
<circle cx="511.4" cy="851.0" r="6.3" fill="#7030A0"/>
<circle cx="516.5" cy="846.2" r="6.3" fill="#7030A0"/>
<circle cx="521.6" cy="842.2" r="6.3" fill="#7030A0"/>
<circle cx="526.7" cy="839.2" r="6.3" fill="#7030A0"/>
<circle cx="531.8" cy="836.8" r="6.3" fill="#7030A0"/>
<circle cx="536.9" cy="834.7" r="6.3" fill="#7030A0"/>
<circle cx="542.0" cy="833.1" r="6.3" fill="#7030A0"/>
<circle cx="555.5" cy="829.5" r="6.3" fill="#7030A0"/>
<circle cx="567.2" cy="827.4" r="6.3" fill="#7030A0"/>
<circle cx="579.0" cy="825.8" r="6.3" fill="#7030A0"/>
<circle cx="590.7" cy="824.5" r="6.3" fill="#7030A0"/>
<circle cx="602.4" cy="823.9" r="6.3" fill="#7030A0"/>
<circle cx="614.1" cy="823.3" r="6.3" fill="#7030A0"/>
<circle cx="625.8" cy="822.7" r="6.3" fill="#7030A0"/>
<circle cx="637.6" cy="822.1" r="6.3" fill="#7030A0"/>
<circle cx="649.3" cy="821.6" r="6.3" fill="#7030A0"/>
<circle cx="661.0" cy="821.2" r="6.3" fill="#7030A0"/>
<circle cx="230.5" cy="813.8" r="6.3" fill="#7030A0"/>
<circle cx="242.2" cy="813.4" r="6.3" fill="#7030A0"/>
<circle cx="253.9" cy="812.8" r="6.3" fill="#7030A0"/>
<circle cx="265.6" cy="812.2" r="6.3" fill="#7030A0"/>
<circle cx="277.3" cy="811.7" r="6.3" fill="#7030A0"/>
<circle cx="289.1" cy="811.1" r="6.3" fill="#7030A0"/>
<circle cx="300.8" cy="810.5" r="6.3" fill="#7030A0"/>
<circle cx="312.5" cy="808.9" r="6.3" fill="#7030A0"/>
<circle cx="324.2" cy="807.2" r="6.3" fill="#7030A0"/>
<circle cx="335.9" cy="804.8" r="6.3" fill="#7030A0"/>
<circle cx="344.1" cy="802.6" r="6.3" fill="#7030A0"/>
<circle cx="349.2" cy="801.0" r="6.3" fill="#7030A0"/>
<circle cx="354.3" cy="799.2" r="6.3" fill="#7030A0"/>
<circle cx="359.4" cy="797.0" r="6.3" fill="#7030A0"/>
<circle cx="364.5" cy="794.2" r="6.3" fill="#7030A0"/>
<circle cx="369.6" cy="790.6" r="6.3" fill="#7030A0"/>
<circle cx="374.6" cy="786.1" r="6.3" fill="#7030A0"/>
<circle cx="379.7" cy="780.9" r="6.3" fill="#7030A0"/>
<circle cx="384.8" cy="773.0" r="6.3" fill="#7030A0"/>
<circle cx="389.9" cy="766.6" r="6.3" fill="#7030A0"/>
<circle cx="395.0" cy="757.4" r="6.3" fill="#7030A0"/>
<circle cx="400.1" cy="745.8" r="6.3" fill="#7030A0"/>
<circle cx="405.2" cy="730.4" r="6.3" fill="#7030A0"/>
<circle cx="410.3" cy="715.7" r="6.3" fill="#7030A0"/>
<circle cx="415.4" cy="705.8" r="6.3" fill="#7030A0"/>
<circle cx="420.5" cy="716.6" r="6.3" fill="#7030A0"/>
<circle cx="425.6" cy="742.1" r="6.3" fill="#7030A0"/>
<circle cx="430.7" cy="767.0" r="6.3" fill="#7030A0"/>
<circle cx="435.8" cy="780.1" r="6.3" fill="#7030A0"/>
<circle cx="440.9" cy="793.3" r="6.3" fill="#7030A0"/>
<circle cx="446.0" cy="804.1" r="6.3" fill="#7030A0"/>
<circle cx="451.1" cy="814.1" r="6.3" fill="#7030A0"/>
<circle cx="456.2" cy="823.9" r="6.3" fill="#7030A0"/>
<circle cx="461.3" cy="834.1" r="6.3" fill="#7030A0"/>
<circle cx="466.4" cy="845.8" r="6.3" fill="#7030A0"/>
<circle cx="471.5" cy="858.9" r="6.3" fill="#7030A0"/>
<circle cx="476.5" cy="874.8" r="6.3" fill="#7030A0"/>
<circle cx="481.6" cy="902.2" r="6.3" fill="#7030A0"/>
<circle cx="486.7" cy="924.0" r="6.3" fill="#7030A0"/>
<circle cx="491.8" cy="926.3" r="6.3" fill="#7030A0"/>
<circle cx="496.9" cy="916.2" r="6.3" fill="#7030A0"/>
<circle cx="502.0" cy="899.8" r="6.3" fill="#7030A0"/>
<circle cx="507.1" cy="885.7" r="6.3" fill="#7030A0"/>
<circle cx="512.2" cy="874.8" r="6.3" fill="#7030A0"/>
<circle cx="517.3" cy="866.6" r="6.3" fill="#7030A0"/>
<circle cx="522.4" cy="859.9" r="6.3" fill="#7030A0"/>
<circle cx="527.5" cy="852.6" r="6.3" fill="#7030A0"/>
<circle cx="532.6" cy="847.6" r="6.3" fill="#7030A0"/>
<circle cx="537.7" cy="843.4" r="6.3" fill="#7030A0"/>
<circle cx="542.8" cy="840.0" r="6.3" fill="#7030A0"/>
<circle cx="553.0" cy="835.3" r="6.3" fill="#7030A0"/>
<circle cx="564.7" cy="831.6" r="6.3" fill="#7030A0"/>
<circle cx="576.4" cy="828.7" r="6.3" fill="#7030A0"/>
<circle cx="588.1" cy="827.0" r="6.3" fill="#7030A0"/>
<circle cx="599.8" cy="825.3" r="6.3" fill="#7030A0"/>
<circle cx="611.6" cy="824.3" r="6.3" fill="#7030A0"/>
<circle cx="623.3" cy="823.7" r="6.3" fill="#7030A0"/>
<circle cx="635.0" cy="823.1" r="6.3" fill="#7030A0"/>
<circle cx="646.7" cy="822.5" r="6.3" fill="#7030A0"/>
<circle cx="658.4" cy="821.9" r="6.3" fill="#7030A0"/>
<rect x="189.7" y="604.7" width="509.50000000000006" height="424.29999999999995" fill="none" stroke="#000" stroke-width="2.2"/>
<line x1="189.7" y1="816.85" x2="707.2" y2="816.85" stroke="#000" stroke-width="2"/>
<line x1="444.45000000000005" y1="604.7" x2="444.45000000000005" y2="1029" stroke="#000" stroke-width="2"/>
<line x1="189.7" y1="675.4166666666667" x2="202.7" y2="675.4166666666667" stroke="#000" stroke-width="2.2"/>
<line x1="189.7" y1="746.1333333333334" x2="202.7" y2="746.1333333333334" stroke="#000" stroke-width="2.2"/>
<line x1="189.7" y1="887.5666666666667" x2="202.7" y2="887.5666666666667" stroke="#000" stroke-width="2.2"/>
<line x1="189.7" y1="958.2833333333333" x2="202.7" y2="958.2833333333333" stroke="#000" stroke-width="2.2"/>
<line x1="317.075" y1="1029" x2="317.075" y2="1016" stroke="#000" stroke-width="2.2"/>
<line x1="571.825" y1="1029" x2="571.825" y2="1016" stroke="#000" stroke-width="2.2"/>
<text transform="translate(151.20,619.30) scale(1.0,1.045)" font-family="'Liberation Serif', serif" font-size="47" text-anchor="end" fill="#000">120</text>
<text transform="translate(151.20,690.02) scale(1.0,1.045)" font-family="'Liberation Serif', serif" font-size="47" text-anchor="end" fill="#000">80</text>
<text transform="translate(151.20,760.73) scale(1.0,1.045)" font-family="'Liberation Serif', serif" font-size="47" text-anchor="end" fill="#000">40</text>
<text transform="translate(151.20,831.45) scale(1.0,1.045)" font-family="'Liberation Serif', serif" font-size="47" text-anchor="end" fill="#000">0</text>
<text transform="translate(151.20,902.17) scale(1.0,1.045)" font-family="'Liberation Serif', serif" font-size="47" text-anchor="end" fill="#000">-40</text>
<text transform="translate(151.20,972.88) scale(1.0,1.045)" font-family="'Liberation Serif', serif" font-size="47" text-anchor="end" fill="#000">-80</text>
<text transform="translate(151.20,1043.60) scale(1.0,1.045)" font-family="'Liberation Serif', serif" font-size="47" text-anchor="end" fill="#000">-120</text>
<text transform="translate(191.20,1099.00) scale(1.0,1.045)" font-family="'Liberation Serif', serif" font-size="47" text-anchor="middle" fill="#000">-10</text>
<text transform="translate(318.57,1099.00) scale(1.0,1.045)" font-family="'Liberation Serif', serif" font-size="47" text-anchor="middle" fill="#000">-5</text>
<text transform="translate(445.95,1099.00) scale(1.0,1.045)" font-family="'Liberation Serif', serif" font-size="47" text-anchor="middle" fill="#000">0</text>
<text transform="translate(573.33,1099.00) scale(1.0,1.045)" font-family="'Liberation Serif', serif" font-size="47" text-anchor="middle" fill="#000">5</text>
<text transform="translate(700.70,1099.00) scale(1.0,1.045)" font-family="'Liberation Serif', serif" font-size="47" text-anchor="middle" fill="#000">10</text>
<text transform="translate(360.50,1164.10)" font-family="'Liberation Serif', serif" font-size="48" fill="#000" font-style="italic">H</text>
<text transform="translate(394.00,1174.30)" font-family="'Liberation Serif', serif" font-size="33" fill="#000">x</text>
<text transform="translate(413.60,1164.30)" font-family="'Liberation Serif', serif" font-size="47" fill="#000" letter-spacing="2.8">(k0e)</text>
<text transform="translate(39.80,880.00) rotate(-90)" font-family="'Liberation Sans', sans-serif" font-size="39" fill="#000" font-style="italic">R</text>
<text transform="translate(47.80,854.00) rotate(-90)" font-family="'Liberation Sans', sans-serif" font-size="25" fill="#000">H</text>
<text transform="translate(22.90,845.00) rotate(-90)" font-family="'Liberation Serif', serif" font-size="25" fill="#000">2</text>
<text transform="translate(22.90,830.00) rotate(-90)" font-family="'Liberation Serif', serif" font-size="25" fill="#000" font-style="italic">ω</text>
<text transform="translate(39.60,800.00) rotate(-90)" font-family="'Liberation Sans', sans-serif" font-size="39" fill="#000">(mΩ)</text>
<line x1="476" y1="652.7" x2="523.6" y2="652.7" stroke="#00B050" stroke-width="3" stroke-linecap="round"/>
<rect x="494" y="647" width="11" height="11" fill="#00B050"/>
<text transform="translate(525.20,667.10) scale(1.0,1.045)" font-family="'Liberation Serif', serif" font-size="47" fill="#000">3.2mA</text>
<line x1="476" y1="723.4" x2="523.6" y2="723.4" stroke="#7030A0" stroke-width="3" stroke-linecap="round"/>
<circle cx="499.5" cy="723.4" r="6.5" fill="#7030A0"/>
<text transform="translate(525.20,737.80) scale(1.0,1.045)" font-family="'Liberation Serif', serif" font-size="47" fill="#000">2.0mA</text>
<text transform="translate(719.00,523.50)" font-family="'Liberation Sans', sans-serif" font-size="34" fill="#000">(d)</text>
<line x1="903.0" y1="1026.1" x2="1359.5" y2="632.26" stroke="#3366D0" stroke-width="3.2" stroke-linecap="round" stroke-dasharray="0.01 6.7"/>
<circle cx="971.2" cy="974.0" r="12.3" fill="#4472C4"/>
<circle cx="1020.9" cy="926.2" r="12.3" fill="#4472C4"/>
<circle cx="1070.7" cy="883.2" r="12.3" fill="#4472C4"/>
<circle cx="1120.6" cy="835.7" r="12.3" fill="#4472C4"/>
<circle cx="1170.1" cy="791.2" r="12.3" fill="#4472C4"/>
<circle cx="1219.9" cy="746.1" r="12.3" fill="#4472C4"/>
<circle cx="1270.3" cy="699.2" r="12.3" fill="#4472C4"/>
<circle cx="1319.2" cy="684.6" r="12.3" fill="#4472C4"/>
<rect x="902" y="599" width="458.5" height="430" fill="none" stroke="#000" stroke-width="2"/>
<line x1="902" y1="685.0" x2="915" y2="685.0" stroke="#000" stroke-width="2"/>
<line x1="902" y1="771.0" x2="915" y2="771.0" stroke="#000" stroke-width="2"/>
<line x1="902" y1="857.0" x2="915" y2="857.0" stroke="#000" stroke-width="2"/>
<line x1="902" y1="943.0" x2="915" y2="943.0" stroke="#000" stroke-width="2"/>
<line x1="1054.8333333333333" y1="1029" x2="1054.8333333333333" y2="1016" stroke="#000" stroke-width="2"/>
<line x1="1207.6666666666667" y1="1029" x2="1207.6666666666667" y2="1016" stroke="#000" stroke-width="2"/>
<text transform="translate(863.60,614.30) scale(1.0,1.045)" font-family="'Liberation Serif', serif" font-size="47" text-anchor="end" fill="#595959">180</text>
<text transform="translate(863.60,700.30) scale(1.0,1.045)" font-family="'Liberation Serif', serif" font-size="47" text-anchor="end" fill="#595959">160</text>
<text transform="translate(863.60,786.30) scale(1.0,1.045)" font-family="'Liberation Serif', serif" font-size="47" text-anchor="end" fill="#595959">140</text>
<text transform="translate(863.60,872.30) scale(1.0,1.045)" font-family="'Liberation Serif', serif" font-size="47" text-anchor="end" fill="#595959">120</text>
<text transform="translate(863.60,958.30) scale(1.0,1.045)" font-family="'Liberation Serif', serif" font-size="47" text-anchor="end" fill="#595959">100</text>
<text transform="translate(863.60,1044.30) scale(1.0,1.045)" font-family="'Liberation Serif', serif" font-size="47" text-anchor="end" fill="#595959">80</text>
<text transform="translate(900.40,1099.30) scale(1.0,1.045)" font-family="'Liberation Serif', serif" font-size="47" text-anchor="middle" fill="#595959">0.25</text>
<text transform="translate(1053.23,1099.30) scale(1.0,1.045)" font-family="'Liberation Serif', serif" font-size="47" text-anchor="middle" fill="#595959">0.35</text>
<text transform="translate(1206.07,1099.30) scale(1.0,1.045)" font-family="'Liberation Serif', serif" font-size="47" text-anchor="middle" fill="#595959">0.45</text>
<text transform="translate(1358.90,1099.30) scale(1.0,1.045)" font-family="'Liberation Serif', serif" font-size="47" text-anchor="middle" fill="#595959">0.55</text>
<text transform="translate(988.30,1164.00)" font-family="'Liberation Serif', serif" font-size="47" fill="#000" font-style="italic">J</text>
<text transform="translate(1011.00,1174.80) scale(0.84,1.0)" font-family="'Liberation Serif', serif" font-size="37" fill="#000">BiSb</text>
<text transform="translate(1086.80,1167.00)" font-family="'Liberation Serif', serif" font-size="47" fill="#000">(MA/cm²)</text>
<text transform="translate(767.50,897.00) rotate(-90)" font-family="'Liberation Serif', serif" font-size="47" fill="#000" font-style="italic">H</text>
<text transform="translate(777.40,866.00) rotate(-90)" font-family="'Liberation Serif', serif" font-size="35" fill="#000">AD</text>
<text transform="translate(767.10,811.00) rotate(-90)" font-family="'Liberation Serif', serif" font-size="47" fill="#000" letter-spacing="3">(0e)</text>
<text transform="translate(936.20,669.00)" font-family="'Liberation Serif', serif" font-size="47" fill="#000" font-style="italic">θ</text>
<text transform="translate(965.80,650.90)" font-family="'Liberation Serif', serif" font-size="36" fill="#000" letter-spacing="3.5">eff</text>
<text transform="translate(961.60,681.50)" font-family="'Liberation Serif', serif" font-size="36" fill="#000">SH</text>
<rect x="1025.8" y="648.3" width="28.8" height="3.2" fill="#000"/>
<rect x="1025.8" y="659.6" width="28.8" height="3.2" fill="#000"/>
<text transform="translate(1071.00,669.40)" font-family="'Liberation Serif', serif" font-size="47" fill="#000" letter-spacing="1.5">10.3</text>
</svg>
</body></html>
